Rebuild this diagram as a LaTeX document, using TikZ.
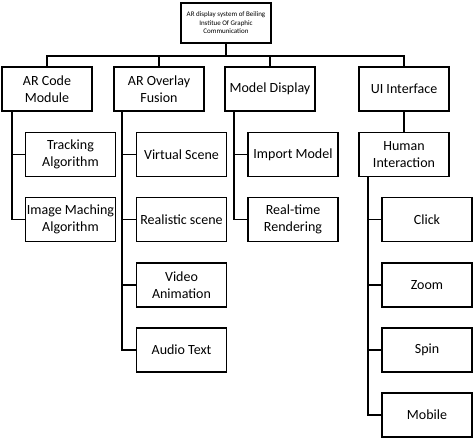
\documentclass[tikz,border=0pt]{standalone}
\usepackage{fontspec}
\setmainfont{Carlito}
\begin{document}
\begin{tikzpicture}[x=1pt,y=-1pt,
  box/.style={draw, line width=1.8pt, minimum width=90pt, minimum height=44pt, align=center, inner sep=1pt, font=\fontsize{14}{17}\selectfont},
  rootbox/.style={draw, line width=1.8pt, minimum width=90pt, minimum height=40pt, align=center, inner sep=1pt, font=\fontsize{7}{8.5}\selectfont},
  conn/.style={line width=1.8pt}]
\useasboundingbox (0,0) rectangle (474,440);

\node[rootbox] (root) at (226,23) {AR display system of Beiling\\Institue Of Graphic\\Communication};

\node[box] (arcode) at (47,89) {AR Code\\Module};
\node[box] (overlay) at (159,89) {AR Overlay\\Fusion};
\node[box] (model) at (270,89) {Model Display};
\node[box] (ui) at (404,89) {UI Interface};

\node[box] (tracking) at (70.5,154.5) {Tracking\\Algorithm};
\node[box] (imgmatch) at (70.5,219.5) {Image Maching\\Algorithm};

\node[box] (virtual) at (181.5,154.5) {Virtual Scene};
\node[box] (realistic) at (181.5,219.5) {Realistic scene};
\node[box] (video) at (181.5,285) {Video\\Animation};
\node[box] (audio) at (181.5,350) {Audio Text};

\node[box] (import) at (293,154.5) {Import Model};
\node[box] (realtime) at (293,219.5) {Real-time\\Rendering};

\node[box] (human) at (404,154.5) {Human\\Interaction};
\node[box] (click) at (427,219.5) {Click};
\node[box] (zoom) at (427,285) {Zoom};
\node[box] (spin) at (427,350) {Spin};
\node[box] (mobile) at (427,415) {Mobile};

\coordinate (bus) at (226,56);
\draw[conn] (root.south) -- (bus);
\draw[conn] (arcode.north) |- (bus) -| (ui.north);
\draw[conn] (overlay.north) -- (overlay.north |- bus);
\draw[conn] (model.north) -- (model.north |- bus);

\coordinate (a1) at ([xshift=-35pt]arcode.south);
\draw[conn] (a1) |- (tracking.west);
\draw[conn] (a1) |- (imgmatch.west);

\coordinate (o1) at ([xshift=-37pt]overlay.south);
\draw[conn] (o1) |- (virtual.west);
\draw[conn] (o1) |- (realistic.west);
\draw[conn] (o1) |- (video.west);
\draw[conn] (o1) |- (audio.west);

\coordinate (m1) at ([xshift=-36pt]model.south);
\draw[conn] (m1) |- (import.west);
\draw[conn] (m1) |- (realtime.west);

\draw[conn] (ui.south) -- (human.north);

\coordinate (h1) at ([xshift=-36pt]human.south);
\draw[conn] (h1) |- (click.west);
\draw[conn] (h1) |- (zoom.west);
\draw[conn] (h1) |- (spin.west);
\draw[conn] (h1) |- (mobile.west);
\end{tikzpicture}
\end{document}
